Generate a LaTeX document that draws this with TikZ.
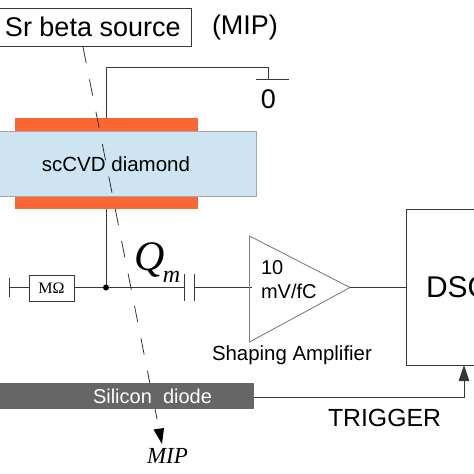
\documentclass[tikz,border=0pt]{standalone}
\usepackage{fontspec}
\setmainfont{Liberation Sans}
\newfontfamily\timesf{Liberation Serif}
\usetikzlibrary{arrows.meta}
\newcommand{\fsz}[1]{\fontsize{#1}{#1}\selectfont}
\definecolor{wirec}{HTML}{383838}
\definecolor{ampc}{HTML}{808080}
\definecolor{elec}{HTML}{FB6633}
\definecolor{diac}{HTML}{CFE4F3}
\definecolor{sic}{HTML}{666666}
\tikzset{
  lab/.style={inner sep=0pt,outer sep=0pt,text=black},
  wire/.style={draw=wirec,line width=1pt},
  boxed/.style={draw=#1,line width=1pt,inner sep=0pt,outer sep=0pt},
  plate/.style={fill=elec,draw=none,minimum width=183pt,minimum height=13pt,inner sep=0pt,outer sep=0pt},
  beam/.style={draw=black!80,line width=0.8pt,dash pattern=on 16.5pt off 16.5pt},
}
\begin{document}
\begin{tikzpicture}[x=1pt,y=-1pt]
\useasboundingbox (0,0) rectangle (474,474);
\clip (0,0) rectangle (474,474);
\fill[white] (0,0) rectangle (474,474);

% source and top text
\node[boxed=wirec,fill=white,minimum width=231pt,minimum height=38pt] (src) at (75.5,27) {};
\node[lab,anchor=west,font=\fsz{27}] (srctxt) at (5,27) {Sr beta source};
\node[lab,anchor=west,font=\fsz{27}] (mip1) at (212,28) {(MIP)};

% detector
\node[plate] (etop) at (106.5,124.5) {};
\node[plate] (ebot) at (106.5,202.5) {};
\node[boxed=black!35,fill=diac,minimum width=258pt,minimum height=65pt] (dia) at (127,163.5) {};
\node[lab,font=\fsz{20.5}] (diatxt) at (116,164) {scCVD diamond};

% ground
\coordinate (topw) at (106,118);
\coordinate (gnd) at (268.5,79.5);
\coordinate (gl) at (256,79.5);
\coordinate (gr) at (289,79.5);
\draw[wire] (topw) |- (268.5,67) -- (gnd);
\draw[wire] (gl) -- (gr);
\node[lab,font=\fsz{27}] (zero) at (268.5,99) {0};

% input line
\node[circle,fill=black,minimum size=6pt,inner sep=0pt,outer sep=0pt] (junc) at (106,287.5) {};
\coordinate (botw) at (106,209);
\draw[wire] (botw) -- (junc);
\node[boxed=wirec,fill=white,minimum width=45pt,minimum height=26pt] (res) at (51.5,288) {\timesf\fsz{16}M\char"03A9};
\coordinate (rl) at (9,287.5);
\coordinate (rlt) at (9,278);
\coordinate (rlb) at (9,297);
\draw[wire] (rlt) -- (rlb);
\draw[wire] (rl) -- (res.west |- rl);
\draw[wire] (res.east |- junc) -- (junc);
\coordinate (c1) at (184.5,287.5);
\coordinate (c1t) at (184.5,274);
\coordinate (c1b) at (184.5,300.5);
\coordinate (c2) at (194,287.5);
\coordinate (c2t) at (194,274);
\coordinate (c2b) at (194,300.5);
\draw[wire] (junc) -- (c1);
\draw[wire] (c1t) -- (c1b);
\draw[wire] (c2t) -- (c2b);
\coordinate (ampin) at (252,287.5);
\draw[wire] (c2) -- (ampin);

% amplifier
\coordinate (a1) at (249.5,236);
\coordinate (a2) at (249.5,342);
\coordinate (aout) at (350,287.5);
\draw[draw=ampc,line width=0.9pt,line join=miter] (a1) -- (aout) -- (a2) -- cycle;
\node[lab,anchor=west,font=\fsz{20}] (ten) at (261,268) {10};
\node[lab,anchor=west,font=\fsz{20}] (gain) at (261,291) {mV/fC};
\node[lab,anchor=west,font=\fsz{20.4}] (shape) at (212,355) {Shaping Amplifier};

% DSO
\node[boxed=wirec,fill=white,minimum width=100pt,minimum height=155.5pt] (dso) at (456,287.5) {};
\node[lab,anchor=west,font=\fsz{30}] (dsotxt) at (426,287) {DSO};
\draw[wire] (aout) -- (dso.west |- aout);

% Q_m
\node[lab,font=\timesf\itshape\fsz{42}] (q) at (150,260) {Q};
\node[lab,font=\timesf\itshape\fsz{24}] (m) at (171.5,277) {m};

% beam
\coordinate (b0) at (83,47);
\coordinate (b1) at (162,444);
\draw[beam] (b0) -- (158.8,428);
\path[fill=black] (153.5,429.5) -- (164,428) -- (b1) -- cycle;

% silicon diode
\node[fill=sic,draw=none,minimum width=255pt,minimum height=26pt,inner sep=0pt,outer sep=0pt] (si) at (126.5,396) {};
\node[lab,text=white,font=\fsz{20}] (sitxt) at (152.5,396) {Silicon\ \ diode};

% trigger
\coordinate (trg) at (464,365);
\draw[wire,-{Triangle[length=16pt,width=10.5pt]}] (si.east |- 0,397.5) -| (trg);
\node[lab,font=\fsz{24.8}] (trigtxt) at (384.5,418) {TRIGGER};

\node[lab,font=\timesf\itshape\fsz{23}] (mip2) at (167.5,456) {MIP};
\end{tikzpicture}
\end{document}
